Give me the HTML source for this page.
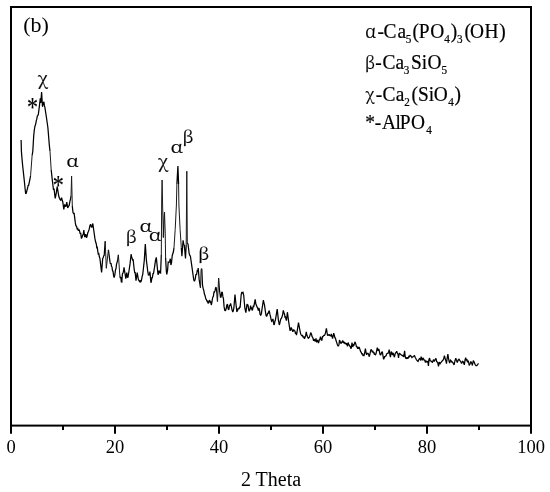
<!DOCTYPE html>
<html><head><meta charset="utf-8"><style>
html,body{margin:0;padding:0;background:#fff;}
svg{display:block;}
text{font-family:"Liberation Serif",serif;fill:#000;}
</style></head><body>
<svg width="550" height="492" viewBox="0 0 550 492">
<rect x="0" y="0" width="550" height="492" fill="#fff"/>
<g stroke="#000" stroke-width="2" fill="none">
<rect x="11" y="7" width="520" height="418.6"/>
<line x1="11" y1="425.6" x2="11" y2="433.7"/>
<line x1="63" y1="425.6" x2="63" y2="430"/>
<line x1="115" y1="425.6" x2="115" y2="433.7"/>
<line x1="167" y1="425.6" x2="167" y2="430"/>
<line x1="219" y1="425.6" x2="219" y2="433.7"/>
<line x1="271" y1="425.6" x2="271" y2="430"/>
<line x1="323" y1="425.6" x2="323" y2="433.7"/>
<line x1="375" y1="425.6" x2="375" y2="430"/>
<line x1="427" y1="425.6" x2="427" y2="433.7"/>
<line x1="479" y1="425.6" x2="479" y2="430"/>
<line x1="531" y1="425.6" x2="531" y2="433.7"/>
</g>
<path d="M21.1 140.0L21.4 151.3L22.1 159.9L22.8 167.0L24.2 179.8L25.2 189.7L25.7 194.0L26.4 192.7L27.1 189.7L27.6 188.1L28.1 185.5L28.6 185.4L29.2 182.6L29.9 179.5L30.6 175.5M32.1 155.6L32.8 151.3L33.7 136.0L34.3 130.0L35.0 126.0L35.6 124.5L36.3 120.6L36.8 119.2L37.3 116.0L37.8 115.6L38.3 114.5L39.3 106.8L40.3 98.2L40.8 103.0L41.6 92.1L42.5 106.8L43.2 103.0L43.9 101.8L44.4 105.7L44.9 107.4L46.6 118.5L47.9 127.7L48.5 135.0L49.3 145.0L50.0 151.3M51.2 170.0L52.3 180.0L53.5 190.0L54.0 188.5L55.2 198.3L55.8 195.6L56.4 192.2L57.2 186.5L58.3 193.4L58.9 196.8L59.5 198.3L60.1 199.6L60.7 200.1L61.6 197.7L62.2 200.3L62.8 202.0L63.8 209.3L64.7 204.4L65.3 206.3L66.0 206.2L66.8 202.0L67.7 208.0L68.6 206.2L69.2 205.4L69.9 201.3L70.5 199.1L71.0 196.0M72.3 206.0L73.0 212.5L73.5 213.4L74.1 212.9L75.3 222.7L75.9 225.8L76.6 226.3L77.2 229.4L77.8 228.8L78.4 230.8L79.0 229.5L79.6 231.2L80.2 233.9L80.7 232.8L81.4 238.4L82.1 237.0L82.8 234.9L83.3 234.1L83.8 230.0L84.7 237.0L85.2 236.4L85.7 234.2L86.2 236.5L86.7 237.7L87.2 235.7L87.8 232.8L88.5 231.3L89.2 229.2L89.9 225.6L90.6 224.2L91.4 227.0L92.1 226.9L92.8 223.5L93.5 228.5L94.9 238.4L95.6 241.8L96.3 244.0L96.8 247.7L97.3 247.5L97.8 251.3L98.3 254.0L98.8 253.7L99.4 257.0L99.9 258.4L101.6 272.5L102.7 258.4L103.2 257.8L103.7 255.8L104.2 255.5L105.2 241.3M108.4 249.8L109.9 261.2L110.4 264.0L111.0 263.1L111.5 266.3L112.0 266.9L112.5 270.8L113.0 271.2L113.6 275.6L114.1 277.5L114.8 275.2L115.5 269.7L116.0 268.8L116.5 264.3L117.0 262.6L117.7 259.9L118.4 254.8M119.8 275.4L120.3 278.2L120.8 277.0L121.3 281.8L121.8 282.0L122.4 273.9L123.1 272.8L123.7 270.2L124.0 267.4L125.0 273.5L125.8 278.6L126.8 272.5L127.3 276.9L127.9 277.6L128.9 271.5L130.1 263.4L131.1 254.2L131.6 256.7L132.1 258.3L132.6 259.8L133.1 259.3L134.2 269.5L134.7 272.5L135.2 272.5L136.0 280.7L137.2 272.5L138.2 278.6L138.7 280.2L139.2 280.7L139.7 282.1L140.3 281.0L140.8 281.7L141.4 280.5L142.1 276.6L142.7 274.6L143.3 269.5L144.3 260.3L145.3 244.1L146.4 260.3L147.9 272.5L148.4 274.8L148.9 274.6L149.4 274.8L149.9 271.5L150.9 282.7L151.4 281.0L151.9 277.6L152.4 277.6L153.0 273.6L153.5 273.5L154.5 267.4L155.5 260.3L156.3 257.3L157.0 264.4L158.0 274.6L158.6 273.8L159.1 270.5L159.8 272.5L160.6 273.0L161.3 255.0M163.4 237.5L164.0 220.0L164.5 212.3M165.6 258.0L166.4 272.0L166.8 274.5L167.6 270.0L168.2 262.0L169.1 262.3L169.7 261.5L170.3 258.7L170.9 265.0L171.5 262.9L172.2 255.7L172.8 253.8L173.4 251.8L174.0 247.7M176.9 184.0L177.9 166.1L178.6 184.0M181.3 247.7L181.9 256.2L183.1 240.4L183.7 244.2L184.3 245.2L185.5 258.5L186.2 245.0M187.3 243.0L188.0 244.0L189.2 253.8L189.8 255.4L190.4 256.2L191.9 266.7L193.2 276.0L193.8 280.0L194.5 281.2L195.2 279.2L195.9 274.6L196.6 274.5L197.2 270.7L197.7 271.0L198.2 268.0L199.2 279.9L200.5 287.8M201.1 269.3L201.8 268.7L202.5 285.2L203.2 288.6L203.8 290.5L204.4 294.1L205.1 295.8L205.8 299.0L206.4 299.5L206.9 301.1L207.5 301.1L208.0 303.4L208.5 302.9L209.1 300.8L209.6 300.2L210.2 302.2L210.7 301.9L211.3 305.0L211.8 302.8L212.4 298.9L212.9 296.9L213.4 296.2L214.0 291.9L214.5 292.0L215.0 290.9L215.6 287.8L216.1 287.3L216.8 292.0L217.5 301.5M218.6 278.0L219.4 289.5L220.5 297.5L221.1 297.0L221.7 292.4L222.3 292.4L222.9 296.9L223.4 298.2L224.1 306.9L224.8 310.4L225.5 310.5L226.1 309.1L226.8 305.2L227.4 304.0L227.9 307.8L228.5 309.8L229.0 309.0L229.5 304.7L230.1 305.8L230.6 303.3L231.4 306.9L232.1 310.0L232.8 312.0L233.4 310.4L233.9 307.6L235.0 294.5L235.7 301.8L236.8 311.3L237.4 311.0L238.0 308.7L238.6 308.4L239.1 309.2L239.6 306.6L240.1 307.6L241.2 294.5L241.9 292.0L242.4 292.9L243.0 292.4L243.7 295.3L244.8 307.6L245.4 310.5L245.9 312.7L247.0 304.0L247.6 305.7L248.1 305.5L248.6 309.3L249.2 311.3L249.9 309.6L250.6 305.5L251.1 309.0L251.6 307.4L252.1 310.5L252.6 309.5L253.2 306.2L253.8 306.4L254.3 304.0L255.2 299.4L255.8 303.8L256.5 305.5L257.1 307.1L257.7 307.9L258.3 310.5L258.9 308.0L259.5 310.4L260.1 314.5L260.7 315.2L261.4 313.7L262.0 309.1L263.4 300.0L263.9 303.1L264.4 304.3L265.6 312.8L266.1 315.6L266.6 316.5L267.2 315.1L267.8 312.8L268.3 313.5L268.8 311.2L269.3 311.0L269.9 314.2L270.5 316.5L271.1 319.5L271.7 321.3L272.3 320.7L272.9 318.9L273.9 325.0L274.4 324.2L274.9 321.3L275.4 320.1L277.2 309.1L278.4 320.1L279.3 325.0L279.8 323.3L280.4 320.4L280.9 318.9L281.5 318.2L282.1 316.5L282.7 314.3L283.3 310.4L283.9 312.5L284.5 314.0L285.0 317.2L285.5 317.0L286.4 320.7L287.4 312.2L288.7 322.0L290.0 330.2L290.6 330.1L291.2 327.4L292.0 329.4L292.8 331.8L293.7 329.4L294.3 330.7L294.9 331.0L295.4 333.1L296.0 332.9L296.5 335.1L297.7 327.8L298.5 322.5L299.3 327.0L300.2 331.8L300.8 334.3L301.4 335.1L302.0 335.8L302.6 335.5L303.2 337.6L303.8 336.3L304.4 338.8L305.0 337.5L305.6 335.7L306.3 331.8L306.9 335.3L307.5 336.7L308.3 338.3L308.9 337.9L309.5 336.7L310.1 335.1L310.7 332.6L311.5 334.3L312.1 336.7L312.8 337.5L313.6 340.8L314.4 339.1L315.2 341.6L316.0 338.3L316.7 342.4L317.6 340.0L318.5 343.2L319.3 340.0L319.9 339.1L320.5 336.7L321.3 340.0L321.9 340.0L322.5 336.7L323.0 336.7L323.5 335.6L324.0 335.3L324.5 335.3L325.0 334.6L325.7 331.8L326.4 328.4L327.1 332.9L327.6 335.6L328.1 334.6L328.6 335.5L329.2 334.2L329.7 335.4L330.2 335.6L330.8 335.9L331.3 333.9L331.9 336.0L332.6 338.7L333.1 336.3L333.7 333.2L334.4 335.3L334.9 337.8L335.4 338.0L336.1 340.8L336.8 342.9L337.5 345.0L338.2 346.3L338.9 345.0L339.5 340.1L340.2 341.8L340.9 343.6L341.8 342.2L342.7 340.5L343.2 342.9L343.7 341.5L344.2 343.5L344.7 342.2L345.2 344.0L345.8 342.9L346.3 344.1L346.8 343.9L347.5 346.3L348.2 342.5L348.7 344.6L349.2 345.0L349.8 346.2L350.3 346.3L350.8 348.7L351.3 348.1L352.0 342.5L352.7 347.0L353.4 345.0L353.9 345.5L354.4 343.6L355.1 341.8L355.6 343.6L356.0 344.6L356.5 347.0L357.0 346.3L357.6 348.9L358.3 346.9L358.8 348.1L359.3 347.6L360.2 350.2L360.7 351.8L361.2 352.1L361.9 354.3L362.5 353.4L363.0 355.9L363.5 354.7L363.9 356.0L364.8 352.1L365.4 348.5L366.1 352.8L366.6 354.8L367.1 353.4L368.0 353.4L368.7 354.7L369.3 356.7L370.2 352.8L371.0 349.5L371.9 350.5L372.4 352.2L372.9 350.8L373.4 353.1L373.9 352.1L374.4 354.6L374.9 354.1L375.5 354.7L376.0 353.8L376.5 351.5L377.3 347.6L378.1 350.8L378.8 348.9L379.4 351.5L379.9 354.2L380.4 354.7L380.9 354.6L381.4 352.8L382.3 351.5L383.0 356.0L383.6 359.3L384.1 358.3L384.6 356.7L385.1 356.7L385.6 356.0L386.1 355.8L386.6 354.1L387.3 353.4L388.0 353.4L388.6 352.2L389.2 349.6L389.7 353.4L390.4 357.2L391.2 351.6L391.8 352.5L392.4 355.1L392.9 352.8L393.5 354.3L394.4 357.2L395.3 353.4L396.1 352.5L396.7 351.3L397.3 353.1L398.0 354.0L398.5 358.0L399.1 354.0L399.6 353.4L400.5 354.3L401.4 355.1L402.3 355.7L403.1 355.4L403.8 356.9L404.6 350.8L405.2 356.3L405.7 358.6L406.6 357.7L407.2 358.9L407.8 357.2L408.4 358.4L408.9 356.0L409.5 356.7L410.1 355.4L411.0 356.0L411.9 357.5L412.7 356.9L413.6 356.3L414.5 355.7L415.3 357.5L416.2 359.2L417.1 360.7L418.0 361.5L418.8 359.5L419.5 358.5L420.0 358.8L420.6 360.5L421.1 356.7L421.7 358.5L422.3 360.4L422.9 357.8L423.5 358.8L424.1 360.2L424.7 360.2L425.5 362.5L426.1 361.1L427.0 362.0L427.9 361.4L428.4 366.0L429.0 359.1L429.6 358.2L430.2 360.8L431.1 361.1L431.6 361.7L432.5 362.3L433.4 359.6L434.3 361.4L435.1 359.6L436.0 358.5L436.6 361.4L437.2 362.0L437.7 362.5L438.5 366.3L439.2 362.0L440.1 363.7L440.9 362.5L441.8 361.4L442.7 360.5L443.6 359.1L444.4 355.6L445.3 359.1L445.9 360.8L446.5 363.7L447.1 358.5L447.9 354.1L448.5 358.5L449.1 361.4L449.7 363.1L450.5 360.2L451.2 360.8L451.8 362.1L452.3 362.0L453.2 363.1L454.1 364.9L454.9 360.8L455.8 358.2L456.4 360.2L457.3 362.5L458.1 360.2L459.0 359.3L459.9 360.5L460.8 361.7L461.6 363.4L462.5 361.4L463.4 362.0L464.3 364.9L465.1 359.6L465.7 357.6L466.3 360.5L466.9 359.1L467.5 362.3L468.3 360.5L469.2 365.5L470.1 363.7L470.9 361.4L471.8 363.4L472.4 365.5L473.3 360.5L474.1 362.0L475.0 364.3L475.9 365.5L476.8 365.5L477.6 364.6L478.5 363.4" fill="none" stroke="#000" stroke-width="1.25" stroke-linejoin="miter" stroke-miterlimit="2"/>
<path d="M30.6 175.5L32.1 155.6M50.0 151.3L51.2 170.0M71.0 196.0L71.6 176.1L72.3 206.0M105.2 241.3L106.3 268.3L108.4 249.8M118.4 254.8L119.8 275.4M161.3 255.0L161.7 200.0L162.1 180.0L162.6 205.0L163.4 237.5M164.5 212.3L165.2 232.0L165.6 258.0M174.0 247.7L175.2 229.4L176.4 205.0L176.9 184.0M178.6 184.0L178.9 205.0L180.1 229.4L181.3 247.7M186.2 245.0L186.8 171.2L187.3 243.0M200.5 287.8L201.1 269.3M217.5 301.5L218.6 278.0" fill="none" stroke="#1a1a1a" stroke-width="1.0" stroke-linejoin="miter" stroke-miterlimit="2"/>
<g font-size="18.5">
<text x="11" y="453" text-anchor="middle">0</text>
<text x="115" y="453" text-anchor="middle">20</text>
<text x="219" y="453" text-anchor="middle">40</text>
<text x="323" y="453" text-anchor="middle">60</text>
<text x="427" y="453" text-anchor="middle">80</text>
<text x="531" y="453" text-anchor="middle">100</text>
</g>
<text x="271" y="485.7" font-size="20" text-anchor="middle">2 Theta</text>
<text x="23.2" y="31.8" font-size="22">(b)</text>
<g stroke="#000" stroke-width="0.2">
<text transform="translate(37.67,85.46) scale(0.94,1)" font-size="19.8" style='font-family:"Noto Serif CJK SC","Liberation Serif",serif'>χ</text>
<text transform="translate(26.99,116.41) scale(0.8,1)" font-size="27.5" style='font-family:"Liberation Serif",serif'>*</text>
<text transform="translate(66.61,166.59) scale(1.18,1)" font-size="17" style='font-family:"Noto Serif CJK SC","Liberation Serif",serif'>α</text>
<text transform="translate(52.84,193.71) scale(0.8,1)" font-size="27.5" style='font-family:"Liberation Serif",serif'>*</text>
<text transform="translate(125.47,242.79) scale(1.1,1)" font-size="16.5" style='font-family:"Noto Serif CJK SC","Liberation Serif",serif'>β</text>
<text transform="translate(139.66,231.89) scale(1.18,1)" font-size="17" style='font-family:"Noto Serif CJK SC","Liberation Serif",serif'>α</text>
<text transform="translate(148.96,241.34) scale(1.18,1)" font-size="17" style='font-family:"Noto Serif CJK SC","Liberation Serif",serif'>α</text>
<text transform="translate(158.12,168.31) scale(0.94,1)" font-size="19.8" style='font-family:"Noto Serif CJK SC","Liberation Serif",serif'>χ</text>
<text transform="translate(170.71,153.29) scale(1.18,1)" font-size="17" style='font-family:"Noto Serif CJK SC","Liberation Serif",serif'>α</text>
<text transform="translate(182.32,142.64) scale(1.1,1)" font-size="16.5" style='font-family:"Noto Serif CJK SC","Liberation Serif",serif'>β</text>
<text transform="translate(198.12,260.39) scale(1.1,1)" font-size="16.5" style='font-family:"Noto Serif CJK SC","Liberation Serif",serif'>β</text>
<text transform="scale(0.97,1)" font-size="20.0"><tspan x="376.58" y="37.67" font-size="18.5" style='font-family:"Noto Serif CJK SC","Liberation Serif",serif'>α</tspan><tspan x="389.26 395.37 409.91" y="37.80" font-size="20.0">-Ca</tspan><tspan x="418.30" y="42.80" font-size="11.5">5</tspan><tspan x="425.20 431.59 443.51" y="37.80" font-size="20.0">(PO</tspan><tspan x="457.92" y="42.80" font-size="11.5">4</tspan><tspan x="464.61" y="37.80" font-size="20.0">)</tspan><tspan x="471.10" y="42.80" font-size="11.5">3</tspan><tspan x="478.92 484.64 499.53 514.72" y="37.80" font-size="20.0">(OH)</tspan></text>
<text transform="scale(0.97,1)" font-size="20.0"><tspan x="376.14" y="68.90" font-size="17.2" style='font-family:"Noto Serif CJK SC","Liberation Serif",serif'>β</tspan><tspan x="386.89 394.23 407.75" y="69.20" font-size="20.0">-Ca</tspan><tspan x="416.36" y="74.20" font-size="11.5">3</tspan><tspan x="423.71 434.84 440.62" y="69.20" font-size="20.0">SiO</tspan><tspan x="455.21" y="74.20" font-size="11.5">5</tspan></text>
<text transform="scale(0.97,1)" font-size="20.0"><tspan x="376.75" y="100.15" font-size="16.9" style='font-family:"Noto Serif CJK SC","Liberation Serif",serif'>χ</tspan><tspan x="387.30 394.23 407.96" y="100.90" font-size="20.0">-Ca</tspan><tspan x="416.71" y="105.90" font-size="11.5">2</tspan><tspan x="424.17 430.93 442.05 447.12" y="100.90" font-size="20.0">(SiO</tspan><tspan x="462.25" y="105.90" font-size="11.5">4</tspan><tspan x="468.53" y="100.90" font-size="20.0">)</tspan></text>
<text transform="scale(0.97,1)" font-size="20.0"><tspan x="376.55 386.27 393.93 407.85 412.21 423.72" y="128.80" font-size="20.0">*-AlPO</tspan><tspan x="439.36" y="133.80" font-size="11.5">4</tspan></text>
</g>
</svg>
</body></html>
